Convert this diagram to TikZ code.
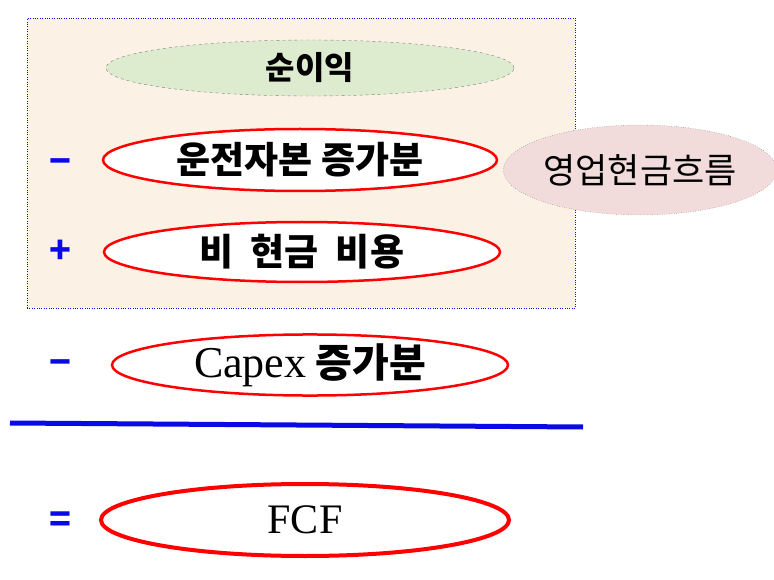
\documentclass[tikz,border=0pt]{standalone}
\usepackage{fontspec}
\setmainfont{Liberation Serif}
\newfontfamily\kr{Noto Sans CJK KR}
\usetikzlibrary{shapes.geometric}
\definecolor{beige}{HTML}{FBF1E4}
\definecolor{lgreen}{HTML}{DDEBCF}
\definecolor{lpink}{HTML}{F2DCDB}
\definecolor{myblue}{HTML}{0A0AE6}
\tikzset{
 redell/.style={ellipse,draw=red,line width=2.5pt,fill=white,font=\kr\bfseries\fontsize{37}{40}\selectfont,inner sep=0pt},
 sign/.style={text=myblue,font=\kr\bfseries\fontsize{36}{38}\selectfont}
}
\begin{document}
\begin{tikzpicture}[x=1pt,y=-1pt]
\useasboundingbox (0,0) rectangle (774,580);
\node[draw=myblue,dotted,fill=beige,minimum width=548pt,minimum height=290pt,inner sep=0pt] (bg) at (301,163) {};
\node[ellipse,draw=gray,dashed,fill=lgreen,minimum width=408pt,minimum height=56pt,inner sep=0pt,font=\kr\bfseries\fontsize{32}{34}\selectfont] (ni) at (310,68) {순이익};
\node[sign] (s1) at (60,167) {−};
\node[redell,minimum width=394pt,minimum height=62pt] (wc) at (300,160) {운전자본 증가분};
\node[ellipse,draw=gray!70!black,dotted,fill=lpink,minimum width=216pt,minimum height=90pt,inner sep=0pt,font=\kr\fontsize{35}{37}\selectfont] (ocf) at (640,170) {영업현금흐름};
\node[sign] (s2) at (60,252) {+};
\node[redell,minimum width=396pt,minimum height=60pt] (nc) at (302,252) {비 \ 현금 \ 비용};
\node[sign] (s3) at (60,368) {−};
\node[redell,minimum width=396pt,minimum height=60pt,font=\kr\bfseries\fontsize{40}{42}\selectfont] (cx) at (310,365) {{\rmfamily\mdseries\fontsize{44}{46}\selectfont Capex} 증가분};
\coordinate (l1) at (10,423);
\coordinate (l2) at (583,427);
\draw[myblue,line width=5pt] (l1) -- (l2);
\node[sign] (s4) at (60,522) {=};
\node[redell,line width=4pt,minimum width=408pt,minimum height=72pt,font=\rmfamily\fontsize{42}{44}\selectfont] (fcf) at (305,520) {FCF};
\end{tikzpicture}
\end{document}
